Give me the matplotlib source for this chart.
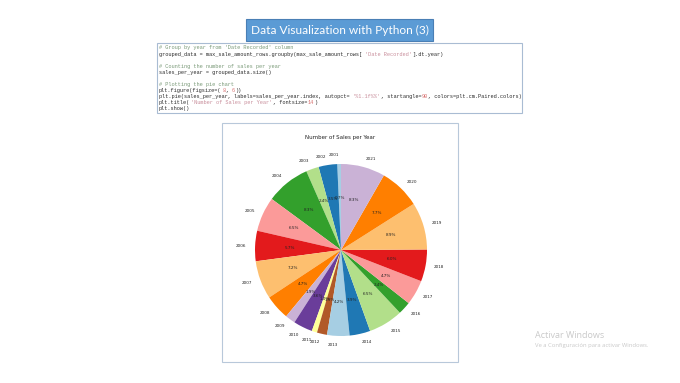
import matplotlib
matplotlib.use("Agg")
import matplotlib.pyplot as plt
from matplotlib.patches import Rectangle

# data
years = ['2001', '2002', '2003', '2004', '2005', '2006', '2007', '2008', '2009', '2010', '2011',
         '2012', '2013', '2014', '2015', '2016', '2017', '2018', '2019', '2020', '2021']
share = [0.7, 3.5, 2.4, 8.3, 6.5, 5.7, 7.2, 4.7, 1.9, 3.6, 1.0,
         1.9, 4.2, 3.9, 6.5, 2.4, 4.7, 6.0, 8.9, 7.7, 8.3]

slide_title = 'Data Visualization with Python (3)'
chart_title = 'Number of Sales per Year'

# code block lines, split into (text, kind) pieces
code_lines = [
    [("# Group by year from 'Date Recorded' column", 'c')],
    [("grouped_data = max_sale_amount_rows.groupby(max_sale_amount_rows[", 'n'),
     ("'Date Recorded'", 's'), ("].dt.year)", 'n')],
    [],
    [("# Counting the number of sales per year", 'c')],
    [("sales_per_year = grouped_data.size()", 'n')],
    [],
    [("# Plotting the pie chart", 'c')],
    [("plt.figure(figsize=(", 'n'), ("8", 'k'), (", ", 'n'), ("6", 'k'), ("))", 'n')],
    [("plt.pie(sales_per_year, labels=sales_per_year.index, autopct=", 'n'),
     ("'%1.1f%%'", 's'), (", startangle=", 'n'), ("90", 'k'),
     (", colors=plt.cm.Paired.colors)", 'n')],
    [("plt.title(", 'n'), ("'Number of Sales per Year'", 's'), (", fontsize=", 'n'),
     ("14", 'k'), (")", 'n')],
    [("plt.show()", 'n')],
]
code_colors = {'n': '#2b2b2b', 'c': '#7a9a78', 's': '#c98f9c', 'k': '#d9706f'}

W, H = 680, 383
fig = plt.figure(figsize=(6.8, 3.83), dpi=100)
fig.patch.set_facecolor('white')


def fx(px):
    return px / W


def fy(py):
    return 1 - py / H


# title box
fig.patches.append(Rectangle((fx(246), fy(41)), fx(433) - fx(246), fy(19) - fy(41),
                             transform=fig.transFigure, facecolor='#5b9bd5',
                             edgecolor='#4a7fb5', linewidth=0.8, zorder=-2))
fig.text(fx(339.5), fy(30), slide_title, color='white', fontsize=8.6,
         family=['Lato', 'DejaVu Sans'], ha='center', va='center')

# code box
fig.patches.append(Rectangle((fx(157), fy(113)), fx(522) - fx(157), fy(43) - fy(113),
                             transform=fig.transFigure, facecolor='white',
                             edgecolor='#a9bcd3', linewidth=0.8, zorder=-2))
fs_code = 3.8
char_w = 0.6 * fs_code * 100 / 72
line_y = 48
for line in code_lines:
    col = 0
    for txt, kind in line:
        fig.text(fx(159 + col * char_w), fy(line_y), txt, family='Liberation Mono',
                 fontsize=fs_code, color=code_colors[kind], ha='left', va='center')
        col += len(txt)
    line_y += 6.1

# chart image frame
fig.patches.append(Rectangle((fx(222), fy(362)), fx(458) - fx(222), fy(123) - fy(362),
                             transform=fig.transFigure, facecolor='none',
                             edgecolor='#b8c8da', linewidth=0.8, zorder=-2))
fig.text(fx(340), fy(137), chart_title, fontsize=4.0, color='#222222',
         ha='center', va='center')

# pie: radius 86 px centred at (341, 250)
cx, cy, r = 341, 250, 86
half = 1.25 * r
ax = fig.add_axes([fx(cx - half), fy(cy + half), 2 * half / W, 2 * half / H])
ax.pie(share, labels=years, autopct='%1.1f%%', startangle=90,
       colors=plt.cm.Paired.colors,
       textprops={'fontsize': 3.0, 'color': '#222222'})
ax.set_xlim(-1.25, 1.25)
ax.set_ylim(-1.25, 1.25)
ax.set_aspect('equal')
ax.axis('off')

# windows watermark
fig.text(fx(535), fy(335), 'Activar Windows', fontsize=6.5, color='#c9c9c9',
         family='Open Sans', ha='left', va='center')
fig.text(fx(535), fy(345), 'Ve a Configuración para activar Windows.', fontsize=4.2,
         color='#c9c9c9', family='Open Sans', ha='left', va='center')

fig.savefig('out.png', dpi=100)
